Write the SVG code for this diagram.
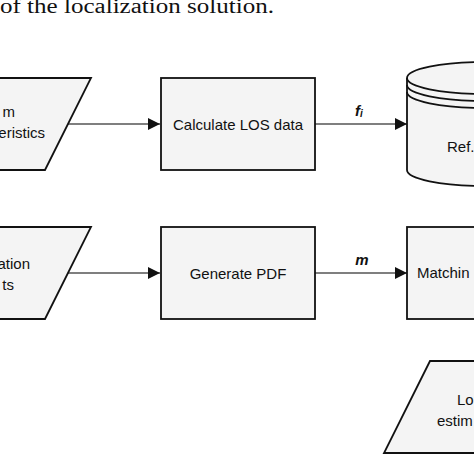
<svg xmlns="http://www.w3.org/2000/svg" width="474" height="474" viewBox="0 0 474 474">
<defs>
<style>
.shape{fill:#f4f4f4;stroke:#111;stroke-width:1.8;}
.band{fill:none;stroke:#111;stroke-width:1.8;}
.lbl{font-family:"Liberation Sans",Arial,sans-serif;font-size:15px;fill:#111;}
.ctr{text-anchor:middle;}
.end{text-anchor:end;}
.var{font-family:"Liberation Sans",Arial,sans-serif;font-size:15px;font-weight:bold;font-style:italic;fill:#111;}
.title{font-family:"Liberation Serif","Times New Roman",serif;font-size:20px;fill:#111;}
.conn{stroke:#555;stroke-width:1.4;fill:none;}
</style>
<marker id="arr" markerUnits="userSpaceOnUse" markerWidth="12" markerHeight="12" refX="12" refY="6" orient="auto">
<path d="M0,0 L12,6 L0,12 Z" fill="#111"/>
</marker>
</defs>
<rect width="474" height="474" fill="#fff"/>
<text class="title" x="0" y="13" textLength="274" lengthAdjust="spacingAndGlyphs">of the localization solution.</text>

<g id="connectors">
<line class="conn" x1="68" y1="124" x2="160" y2="124" marker-end="url(#arr)"/>
<line class="conn" x1="315" y1="124" x2="407" y2="124" marker-end="url(#arr)"/>
<line class="conn" x1="68" y1="273" x2="160" y2="273" marker-end="url(#arr)"/>
<line class="conn" x1="315" y1="273" x2="407" y2="273" marker-end="url(#arr)"/>
<text class="var" x="355" y="116">f<tspan font-size="10" dy="1">i</tspan></text>
<text class="var ctr" x="362" y="265">m</text>
</g>

<g id="system-characteristics">
<polygon class="shape" points="-60,78 91,78 45,170 -60,170"/>
<text class="lbl end" x="15" y="117">m</text>
<text class="lbl end" x="45" y="138">eristics</text>
</g>

<g id="calculate-los">
<rect class="shape" x="161" y="78" width="154" height="92"/>
<text class="lbl ctr" x="238" y="130">Calculate LOS data</text>
</g>

<g id="ref-db">
<path class="shape" d="M407,78 A77,16 0 0 1 561,78 L561,170 A77,16 0 0 1 407,170 Z"/>
<path class="band" d="M407,78 A77,16 0 0 0 561,78"/>
<path class="band" d="M407,85 A77,16 0 0 0 561,85"/>
<path class="band" d="M407,92 A77,16 0 0 0 561,92"/>
<text class="lbl" x="447" y="152">Ref.</text>
</g>

<g id="observation-points">
<polygon class="shape" points="-60,227 91,227 45,319 -60,319"/>
<text class="lbl end" x="30" y="269">ation</text>
<text class="lbl end" x="14" y="290">ts</text>
</g>

<g id="generate-pdf">
<rect class="shape" x="161" y="227" width="154" height="92"/>
<text class="lbl ctr" x="238" y="279">Generate PDF</text>
</g>

<g id="matching">
<rect class="shape" x="407" y="227" width="154" height="92"/>
<text class="lbl" x="417" y="278">Matchin</text>
</g>

<g id="location-estimate">
<polygon class="shape" points="430,361 560,361 514,453 384,453"/>
<text class="lbl" x="457" y="405">Lo</text>
<text class="lbl" x="437" y="426">estim</text>
</g>
</svg>
